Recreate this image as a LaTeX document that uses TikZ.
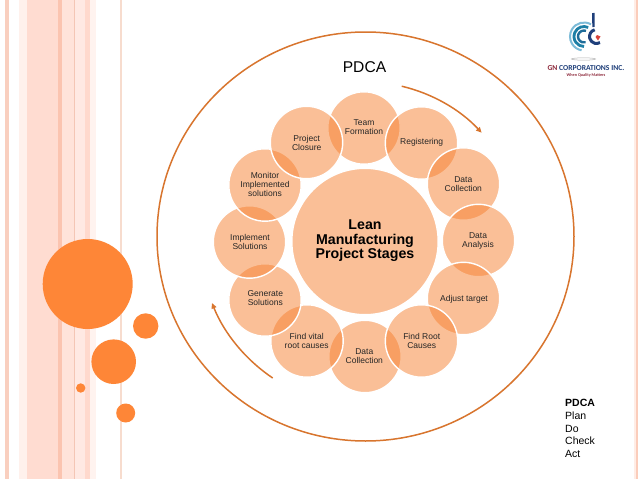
\documentclass[tikz,border=0pt]{standalone}
\usepackage{fontspec}
\setmainfont{Liberation Sans}
\newfontfamily\logofont{Carlito}
\usetikzlibrary{arrows.meta}
\definecolor{base}{HTML}{F78130}
\definecolor{dot}{HTML}{FE8637}
\definecolor{ringcol}{HTML}{D8752E}
\definecolor{navy}{HTML}{1F3F7A}
\definecolor{teal2}{HTML}{1E7FA6}
\definecolor{sky}{HTML}{7DBBD8}
\definecolor{maroon2}{HTML}{8E2A3C}
\definecolor{heart}{HTML}{D8433A}
\tikzset{
 stage/.style={circle,minimum size=72.4pt,inner sep=0pt,fill=base,fill opacity=.5,draw=white,draw opacity=1,line width=1.4pt},
 hub/.style={circle,minimum size=146.4pt,inner sep=0pt,fill=base,fill opacity=.5,draw=white,draw opacity=1,line width=1.4pt},
 tag/.style={align=center,font=\fontsize{8.5}{9}\selectfont,text=black!85,inner sep=0pt},
 hubtext/.style={align=center,font=\fontsize{14.2}{14.6}\selectfont\bfseries,inner sep=0pt},
 blob/.style={circle,fill=dot,inner sep=0pt},
 sweep/.style={draw=ringcol,line width=1.5pt},
 pointed/.style={sweep,-{Triangle[length=5.5pt,width=5pt]}},
}
\begin{document}
\begin{tikzpicture}[x=1pt,y=-1pt]
\useasboundingbox (0,0) rectangle (638,479);
\fill[white] (0,0) rectangle (638,479);
% stripes
\foreach \a/\b/\c in {5/9/F9CFBF,19/27/FFF1EC,27/58/FFDCD1,58/62/FBC4B0,62/74/FFE3DA,74/75/F4C6B5,75/85/FFE9E3,85/90/FFD9CD,90/96/FFF3EF,120/122/F7DCCE,634/636/FFEDE6,636/638/FBCDBB}{
  \definecolor{tmpc}{HTML}{\c}
  \fill[tmpc] (\a,0) rectangle (\b,479);
}
% decorative dots
\node[blob,minimum size=90pt] (d1) at (87.7,284) {};
\node[blob,minimum size=25.4pt] (d2) at (145.7,326) {};
\node[blob,minimum size=44.6pt] (d3) at (113.7,361.7) {};
\node[blob,minimum size=9.4pt] (d4) at (80.7,388) {};
\node[blob,minimum size=19pt] (d5) at (125.7,413) {};
% big ring
\coordinate (ringcentre) at (365.5,236.5);
\draw[sweep] (ringcentre) ellipse [x radius=208.5pt,y radius=204.5pt];
% arrows
\coordinate (topstart) at (401.7,86.2);
\draw[pointed] (topstart) arc[start angle=76.7,end angle=42.9,radius=159pt];
\coordinate (lowstart) at (272.7,378);
\draw[pointed] (lowstart) arc[start angle=236,end angle=202,radius=165pt];
% stage circles
\node[hub] (hub) at (365,241.5) {};
\node[stage] (team) at (364,128) {};
\node[stage] (reg) at (421.5,143) {};
\node[stage] (dca) at (463.5,184) {};
\node[stage] (ana) at (478.5,240.5) {};
\node[stage] (adj) at (463.5,298.5) {};
\node[stage] (dcb) at (365,356.5) {};
\node[stage] (root) at (421.5,341) {};
\node[stage] (vital) at (307,341) {};
\node[stage] (gen) at (265,300) {};
\node[stage] (impl) at (249.5,242) {};
\node[stage] (mon) at (265,185) {};
\node[stage] (proj) at (306.5,142.5) {};
% labels
\node[hubtext] (hubl) at (365,241) {Lean\\Manufacturing\\Project Stages};
\node[tag] (teaml) at (364,127) {Team\\Formation};
\node[tag] (regl) at (421.7,142.7) {Registering};
\node[tag] (dcal) at (463.3,184.5) {Data\\Collection};
\node[tag] (anal) at (478,241) {Data\\Analysis};
\node[tag] (adjl) at (464,299) {Adjust target};
\node[tag] (rootl) at (421.7,340.5) {Find Root\\Causes};
\node[tag] (dcbl) at (364.3,356.5) {Data\\Collection};
\node[tag] (vitall) at (306.7,340.5) {Find vital\\root causes};
\node[tag] (genl) at (265.3,298.5) {Generate\\Solutions};
\node[tag] (impll) at (250,241.5) {Implement\\Solutions};
\node[tag] (monl) at (265,184.5) {Monitor\\Implemented\\solutions};
\node[tag] (projl) at (306.7,142.5) {Project\\Closure};
\node[inner sep=0pt,font=\fontsize{15.6}{16}\selectfont] (pdca) at (364.5,67) {PDCA};
\node[anchor=west,align=left,inner sep=0pt,font=\fontsize{10.5}{12.8}\selectfont] (legend) at (565,428.5) {\textbf{PDCA}\\Plan\\Do\\Check\\Act};
% logo
\coordinate (lc) at (584,36.5);
\draw[sky,line width=2pt] (lc) ++(60:14pt) arc[start angle=60,end angle=260,radius=14pt];
\draw[teal2,line width=2.8pt] (lc) ++(65:10pt) arc[start angle=65,end angle=270,radius=10pt];
\draw[teal2!70!navy,line width=2.4pt] (lc) ++(70:6pt) arc[start angle=70,end angle=285,radius=6pt];
\draw[navy,line width=2.4pt] (593.3,13) -- (593.5,27);
\coordinate (hookc) at (596.5,36.5);
\draw[navy,line width=3pt] (hookc) ++(105:7pt) arc[start angle=105,end angle=300,radius=7pt];
\fill[heart] (597,35) -- (600.5,36.5) -- (598,40.5) -- (595.5,37) -- cycle;
\draw[black!30,line width=.5pt] (583.5,59) ellipse [x radius=12pt,y radius=1.2pt];
\node[inner sep=0pt,font=\logofont\bfseries\fontsize{7.6}{8}\selectfont] (logoname) at (586,68.3) {\textcolor{maroon2}{GN} \textcolor{navy}{CORPORATIONS INC.}};
\node[inner sep=0pt,font=\logofont\bfseries\fontsize{4.2}{5}\selectfont,text=maroon2] (logotag) at (586,75.5) {When Quality Matters};
\end{tikzpicture}
\end{document}
